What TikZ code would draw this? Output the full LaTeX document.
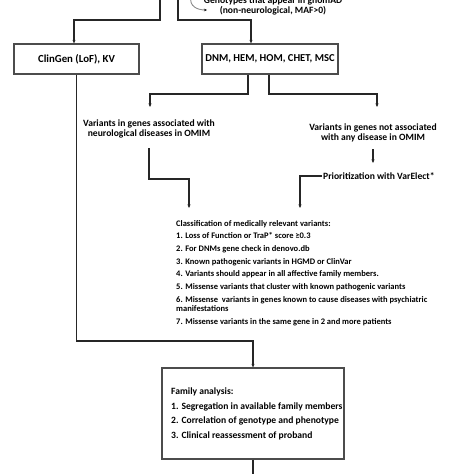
\documentclass[tikz,border=0pt]{standalone}
\usepackage{fontspec}
\setmainfont{Carlito}
\usetikzlibrary{arrows.meta,calc}
\begin{document}
\begin{tikzpicture}[x=1pt,y=-1pt,
  line/.style={draw=black!85,line width=1.1pt},
  arr/.style={line,-{Stealth[length=3.5pt,width=3pt]}},
  box/.style={draw=black!70,line width=1.2pt,rectangle,inner sep=0pt},
  txt/.style={font=\bfseries\fontsize{9.6}{10}\selectfont,align=center,inner sep=0pt},
]
\useasboundingbox[fill=white] (0,0) rectangle (474,474);
% top partial text
\node[txt] (gnomad) at (273,6) {Genotypes that appear in gnomAD\\(non-neurological, MAF>0)};
\coordinate (topL) at (160,-5);
\coordinate (topR) at (178,-5);
\coordinate (cs) at (191,-3);
\coordinate (ce) at (207,10);
\draw[draw=black!45,line width=0.9pt,-{Stealth[length=3pt,width=2.5pt,color=black]}] (cs) .. controls (189,6) and (197,10) .. (ce);
% boxes
\node[box,minimum width=125pt,minimum height=30pt,font=\bfseries\fontsize{10.8}{12}\selectfont] (clingen) at (76.5,59) {ClinGen (LoF), KV};
\node[box,minimum width=136pt,minimum height=30pt,font=\bfseries\fontsize{10.6}{12}\selectfont] (dnm) at (270,59) {DNM, HEM, HOM, CHET, MSC};
\node[txt] (neuro) at (149,129) {Variants in genes associated with\\neurological diseases in OMIM};
\node[txt] (nonomim) at (373,133) {Variants in genes not associated\\with any disease in OMIM};
\node[txt,anchor=west] (varelect) at (323,176) {Prioritization with VarElect*};
\node[txt,align=left,anchor=base west,font=\bfseries\fontsize{8.5}{9}\selectfont] (class) at (176,324) {Classification of medically relevant variants:\\[3.7pt]
1. Loss of Function or TraP* score ≥0.3\\[3.7pt]
2. For DNMs gene check in denovo.db\\[3.7pt]
3. Known pathogenic variants in HGMD or ClinVar\\[3.7pt]
4. Variants should appear in all affective family members.\\[3.7pt]
5. Missense variants that cluster with known pathogenic variants\\[3.7pt]
6. Missense\ \ variants in genes known to cause diseases with psychiatric\\
manifestations\\[3.7pt]
7. Missense variants in the same gene in 2 and more patients};
\node[box,minimum width=182pt,minimum height=91pt] (family) at (253,413.5) {};
\node[txt,align=left,anchor=base west,font=\bfseries\fontsize{9.6}{11.5}\selectfont] (famtext) at (171,438) {Family analysis:\\[3pt]
1. Segregation in available family members\\[3pt]
2. Correlation of genotype and phenotype\\[3pt]
3. Clinical reassessment of proband};
% free ends of connectors
\coordinate (neuroIn) at (150,107);
\coordinate (nonIn) at (377,107);
\coordinate (neuroOut) at (149,148);
\coordinate (nonOut) at (373,149);
\coordinate (varIn) at (373,163);
\coordinate (classInL) at (189,208);
\coordinate (classInR) at (300,208);
\coordinate (bottomEnd) at (253,480);
% connectors
\draw[arr] (topL) |- (74,20) -- ([xshift=-2.5pt]clingen.north);
\draw[arr] (topR) |- (251,20) -- ([xshift=-19pt]dnm.north);
\draw[arr] ([xshift=-22pt]dnm.south) |- (150,94) -- (neuroIn);
\draw[arr] ([xshift=-1pt]dnm.south) |- (377,94) -- (nonIn);
\draw[arr] (neuroOut) |- (189,179) -- (classInL);
\draw[arr] (nonOut) -- (varIn);
\draw[arr] ([xshift=-1pt]varelect.west) -| (classInR);
\draw[arr] (clingen.south) |- (253,341) -- (family.north);
\draw[line] (family.south) -- (bottomEnd);
\end{tikzpicture}
\end{document}
